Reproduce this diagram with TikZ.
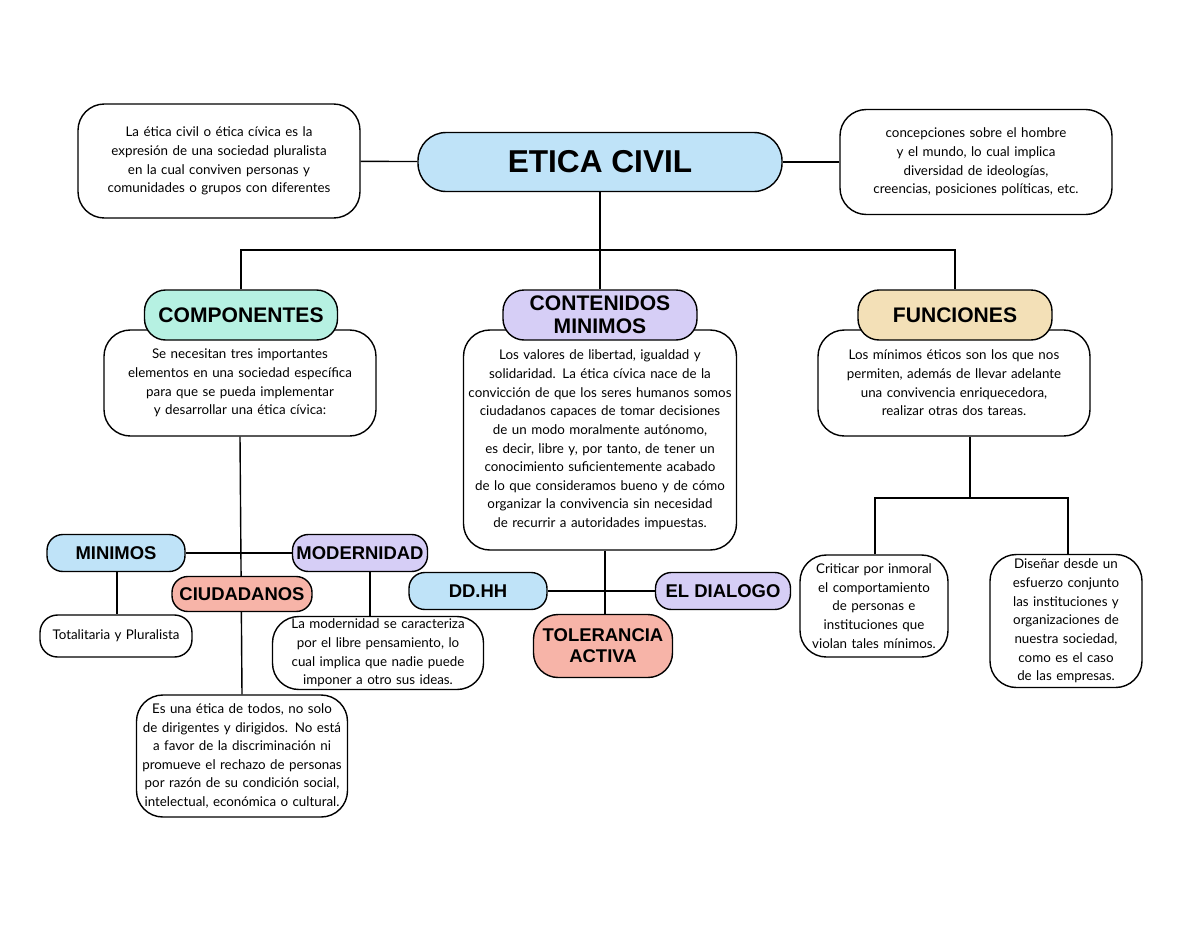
\documentclass[tikz,border=0pt]{standalone}
\usepackage{fontspec}
\setmainfont{Liberation Sans}
\newfontfamily\bodyfont{Lato}
\usetikzlibrary{positioning}
\definecolor{titleblue}{HTML}{BFE3F8}
\definecolor{mint}{HTML}{B6F1E2}
\definecolor{lavender}{HTML}{D6CEF6}
\definecolor{wheat}{HTML}{F3E0B7}
\definecolor{salmon}{HTML}{F7B4A8}
\newcommand{\nohyph}{\hyphenpenalty=10000\exhyphenpenalty=10000\relax}
\tikzset{main node/.style={shape=rectangle, draw, thick, align=center,
    rounded corners=12pt, inner sep=0pt, font=\bfseries\fontsize{12}{13}\selectfont},
  small node/.style={main node, rounded corners=9pt, font=\bfseries\fontsize{10.5}{12}\selectfont},
  text node/.style={shape=rectangle, draw, thick, align=center, fill=white,
    rounded corners=15pt, inner sep=0pt,
    font=\bodyfont\fontsize{7.6}{10.6}\selectfont\nohyph},
  link/.style={draw, thick}}
\newcommand{\px}{0.02cm}
\begin{document}
\begin{tikzpicture}[x=0.02cm,y=-0.02cm]
    \useasboundingbox (0,0) rectangle (1200,927);
    % title row
    \node[main node, fill=titleblue, minimum width=364*\px, minimum height=59*\px,
      rounded corners=16pt, font=\bfseries\fontsize{18}{20}\selectfont] (title) at (600,162) {ETICA CIVIL};
    \node[text node, minimum width=282*\px, minimum height=114*\px, text width=276*\px] (def) at (219,161)
      {La ética civil o ética cívica es la expresión de una sociedad pluralista en la cual conviven personas y comunidades o grupos con diferentes};
    \node[text node, minimum width=272*\px, minimum height=105*\px, text width=236*\px] (conc) at (976,162)
      {concepciones sobre el hombre y el mundo, lo cual implica diversidad de ideologías, creencias, posiciones políticas, etc.};

    % branches
    \node[text node, minimum width=272*\px, minimum height=106*\px, text width=236*\px] (compt) at (240,383)
      {Se necesitan tres importantes elementos en una sociedad específica para que se pueda implementar y desarrollar una ética cívica:};
    \node[text node, minimum width=273*\px, minimum height=220*\px, text width=272*\px] (contt) at (600,440)
      {Los valores de libertad, igualdad y solidaridad. La ética cívica nace de la convicción de que los seres humanos somos ciudadanos capaces de tomar decisiones de un modo moralmente autónomo, es decir, libre y, por tanto, de tener un conocimiento suficientemente acabado de lo que consideramos bueno y de cómo organizar la convivencia sin necesidad de recurrir a autoridades impuestas.};
    \node[text node, minimum width=272*\px, minimum height=106*\px, text width=236*\px] (funt) at (954,383)
      {Los mínimos éticos son los que nos permiten, además de llevar adelante una convivencia enriquecedora, realizar otras dos tareas.};
    \node[main node, fill=mint, minimum width=193*\px, minimum height=50*\px] (comp) at (241,315) {COMPONENTES};
    \node[main node, fill=lavender, minimum width=194*\px, minimum height=50*\px] (cont) at (600,315) {CONTENIDOS\\MINIMOS};
    \node[main node, fill=wheat, minimum width=194*\px, minimum height=50*\px] (func) at (955,315) {FUNCIONES};

    % funciones
    \node[text node, minimum width=148*\px, minimum height=102*\px, text width=140*\px] (crit) at (874,606)
      {Criticar por inmoral el comportamiento de personas e instituciones que violan tales mínimos.};
    \node[text node, minimum width=152*\px, minimum height=133*\px, text width=140*\px] (dise) at (1066,621)
      {Diseñar desde un esfuerzo conjunto las instituciones y organizaciones de nuestra sociedad, como es el caso de las empresas.};

    % componentes
    \node[text node, minimum width=211*\px, minimum height=122*\px, text width=205*\px] (todos) at (242,756)
      {Es una ética de todos, no solo de dirigentes y dirigidos. No está a favor de la discriminación ni promueve el rechazo de personas por razón de su condición social, intelectual, económica o cultural.};
    \node[text node, rounded corners=10pt, minimum width=152*\px, minimum height=42*\px, text width=150*\px] (total) at (116,636)
      {Totalitaria y Pluralista};
    \node[text node, minimum width=211*\px, minimum height=73*\px, text width=208*\px] (moder) at (378,653)
      {La modernidad se caracteriza por el libre pensamiento, lo cual implica que nadie puede imponer a otro sus ideas.};

    \path[link] (def) -- (title);
    \path[link] (title) -- (conc);
    \path[link] (title.south) -- (600,250) coordinate (split);
    \path[link] (comp.north) |- (split) -| (func.north);
    \path[link] (split) -- (cont.north);
    \path[link] (funt.south -| 970,0) -- (970,498) coordinate (fsplit);
    \path[link] (crit.north -| 875,0) |- (fsplit) -| (dise.north -| 1068,0);
    \path[link] (compt.south) -- (todos.north);
    \path[link] (contt.south -| 605,0) -- (605,615) coordinate (tol);
    \path[link] (117,572) -- (total.north -| 117,0);
    \path[link] (370,572) -- (370,617);

    \node[small node, fill=titleblue, minimum width=138*\px, minimum height=37*\px] (min) at (116,553) {MINIMOS};
    \node[small node, fill=lavender, minimum width=135*\px, minimum height=37*\px] (mod) at (360,553) {MODERNIDAD};
    \node[small node, fill=salmon, minimum width=140*\px, minimum height=35*\px] (ciud) at (242,594) {CIUDADANOS};
    \node[small node, fill=titleblue, minimum width=138*\px, minimum height=37*\px] (ddhh) at (478,591) {DD.HH};
    \node[small node, fill=lavender, minimum width=135*\px, minimum height=37*\px] (dial) at (723,591) {EL DIALOGO};
    \node[small node, fill=salmon, minimum width=139*\px, minimum height=63*\px,
      rounded corners=14pt] (tole) at (603,646) {TOLERANCIA\\ACTIVA};
    \path[link] (min) -- (mod);
    \path[link] (ddhh) -- (dial);
\end{tikzpicture}
\end{document}
